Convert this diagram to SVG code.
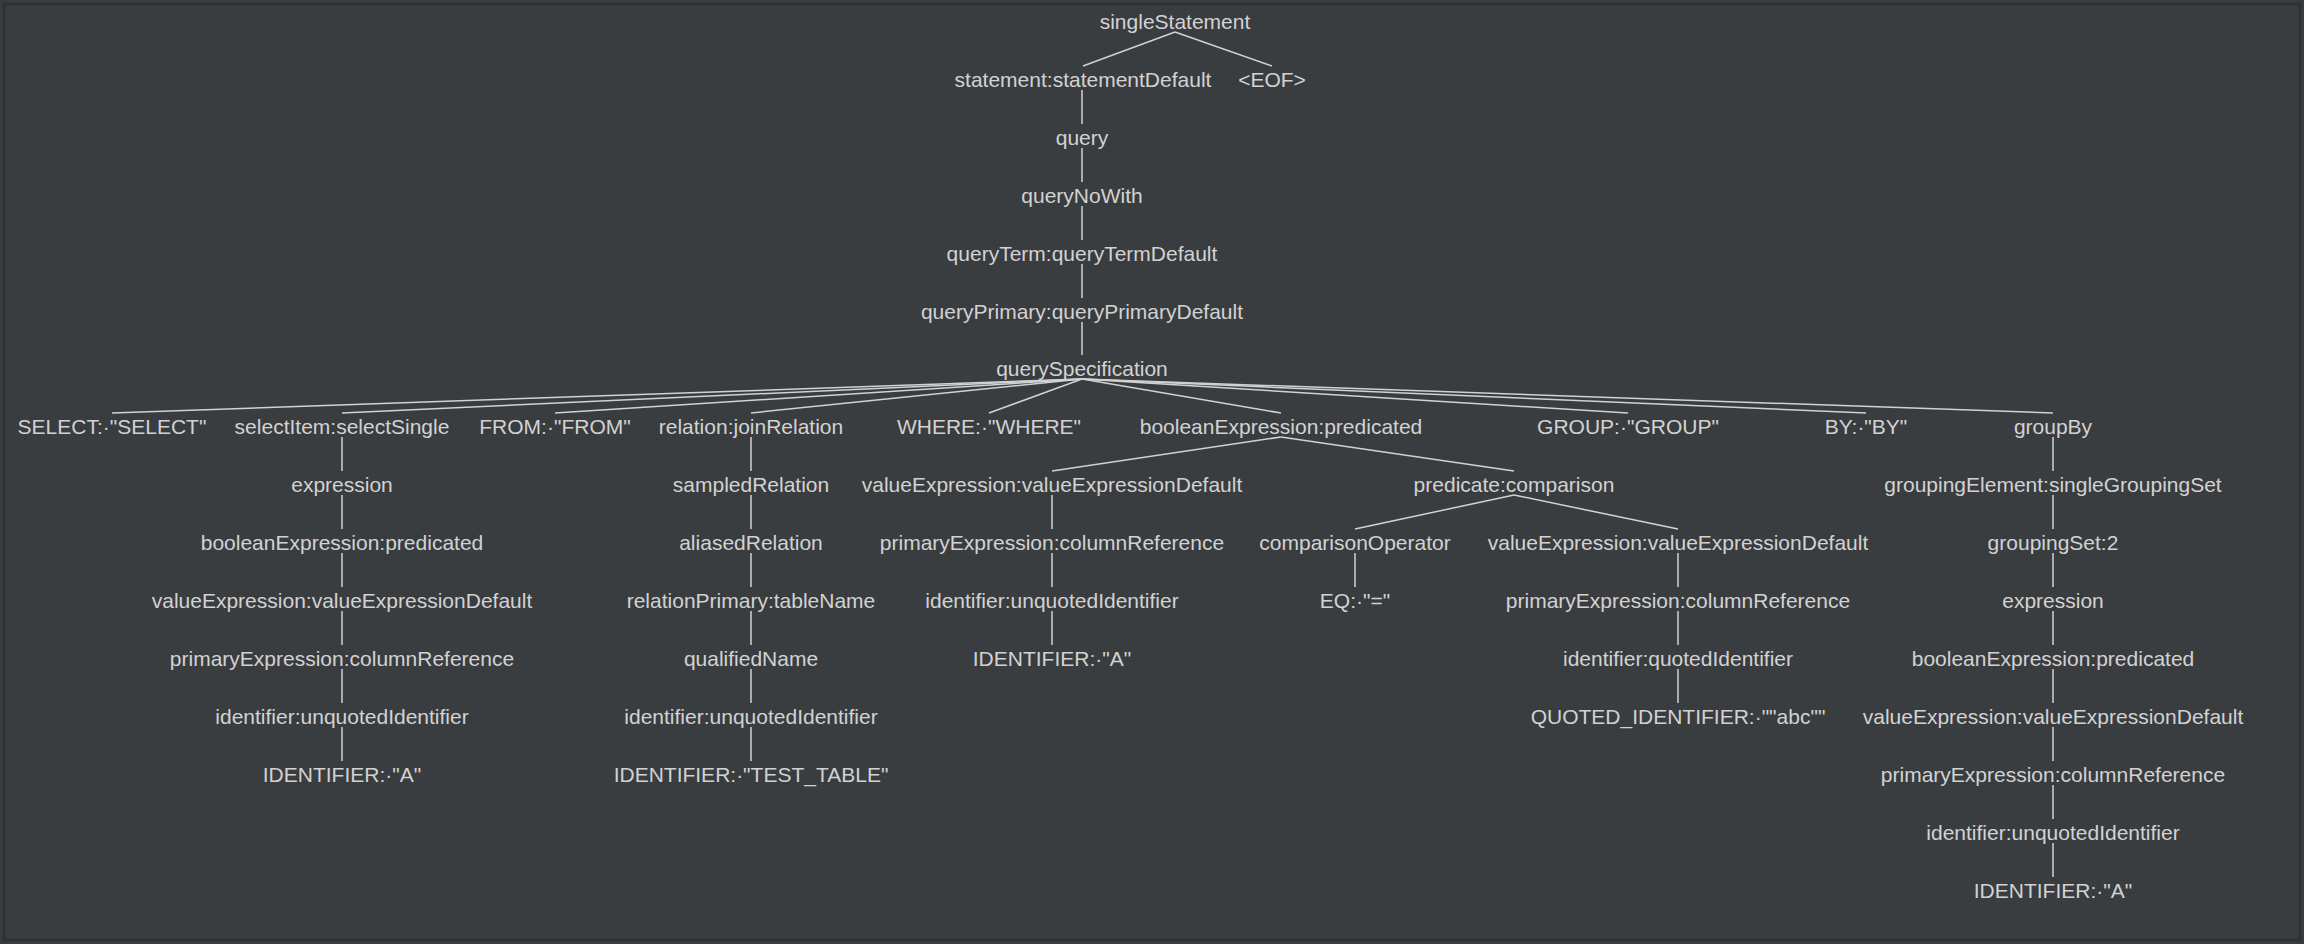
<svg xmlns="http://www.w3.org/2000/svg" width="2304" height="944" viewBox="0 0 2304 944">
<style>
text{font-family:"Liberation Sans",Arial,sans-serif;font-size:21px;fill:#d2d2d2;text-anchor:middle;dominant-baseline:central}
line{stroke:#d2d2d2;stroke-width:1.5}
</style>
<rect x="0" y="0" width="2304" height="944" fill="#3a3d40"/>
<rect x="4" y="4" width="2296" height="936" fill="none" stroke="#2e3033" stroke-width="3"/>
<g id="connectors">
<line x1="1175" y1="32" x2="1083" y2="66"/><line x1="1175" y1="32" x2="1272" y2="66"/>
<line x1="1082" y1="90" x2="1082" y2="124"/>
<line x1="1082" y1="148" x2="1082" y2="182"/>
<line x1="1082" y1="206" x2="1082" y2="240"/>
<line x1="1082" y1="264" x2="1082" y2="298"/>
<line x1="1082" y1="322" x2="1082" y2="355"/>
<line x1="1082" y1="379" x2="112" y2="413"/><line x1="1082" y1="379" x2="342" y2="413"/><line x1="1082" y1="379" x2="555" y2="413"/><line x1="1082" y1="379" x2="751" y2="413"/><line x1="1082" y1="379" x2="989" y2="413"/><line x1="1082" y1="379" x2="1281" y2="413"/><line x1="1082" y1="379" x2="1628" y2="413"/><line x1="1082" y1="379" x2="1866" y2="413"/><line x1="1082" y1="379" x2="2053" y2="413"/>
<line x1="342" y1="437" x2="342" y2="471"/><line x1="751" y1="437" x2="751" y2="471"/><line x1="1281" y1="437" x2="1052" y2="471"/><line x1="1281" y1="437" x2="1514" y2="471"/><line x1="2053" y1="437" x2="2053" y2="471"/>
<line x1="342" y1="495" x2="342" y2="529"/><line x1="751" y1="495" x2="751" y2="529"/><line x1="1052" y1="495" x2="1052" y2="529"/><line x1="1514" y1="495" x2="1355" y2="529"/><line x1="1514" y1="495" x2="1678" y2="529"/><line x1="2053" y1="495" x2="2053" y2="529"/>
<line x1="342" y1="553" x2="342" y2="587"/><line x1="751" y1="553" x2="751" y2="587"/><line x1="1052" y1="553" x2="1052" y2="587"/><line x1="1355" y1="553" x2="1355" y2="587"/><line x1="1678" y1="553" x2="1678" y2="587"/><line x1="2053" y1="553" x2="2053" y2="587"/>
<line x1="342" y1="611" x2="342" y2="645"/><line x1="751" y1="611" x2="751" y2="645"/><line x1="1052" y1="611" x2="1052" y2="645"/><line x1="1678" y1="611" x2="1678" y2="645"/><line x1="2053" y1="611" x2="2053" y2="645"/>
<line x1="342" y1="669" x2="342" y2="703"/><line x1="751" y1="669" x2="751" y2="703"/><line x1="1678" y1="669" x2="1678" y2="703"/><line x1="2053" y1="669" x2="2053" y2="703"/>
<line x1="342" y1="727" x2="342" y2="761"/><line x1="751" y1="727" x2="751" y2="761"/><line x1="2053" y1="727" x2="2053" y2="761"/>
<line x1="2053" y1="785" x2="2053" y2="819"/>
<line x1="2053" y1="843" x2="2053" y2="877"/>
</g>
<g id="n0"><text x="1175" y="21">singleStatement</text></g>
<g id="n1"><text x="1083" y="79">statement:statementDefault</text></g>
<g id="n2"><text x="1272" y="79">&lt;EOF&gt;</text></g>
<g id="n3"><text x="1082" y="137">query</text></g>
<g id="n4"><text x="1082" y="195">queryNoWith</text></g>
<g id="n5"><text x="1082" y="253">queryTerm:queryTermDefault</text></g>
<g id="n6"><text x="1082" y="311">queryPrimary:queryPrimaryDefault</text></g>
<g id="n7"><text x="1082" y="368">querySpecification</text></g>
<g id="n8"><text x="112" y="426">SELECT:·"SELECT"</text></g>
<g id="n9"><text x="342" y="426">selectItem:selectSingle</text></g>
<g id="n10"><text x="555" y="426">FROM:·"FROM"</text></g>
<g id="n11"><text x="751" y="426">relation:joinRelation</text></g>
<g id="n12"><text x="989" y="426">WHERE:·"WHERE"</text></g>
<g id="n13"><text x="1281" y="426">booleanExpression:predicated</text></g>
<g id="n14"><text x="1628" y="426">GROUP:·"GROUP"</text></g>
<g id="n15"><text x="1866" y="426">BY:·"BY"</text></g>
<g id="n16"><text x="2053" y="426">groupBy</text></g>
<g id="n17"><text x="342" y="484">expression</text></g>
<g id="n18"><text x="751" y="484">sampledRelation</text></g>
<g id="n19"><text x="1052" y="484">valueExpression:valueExpressionDefault</text></g>
<g id="n20"><text x="1514" y="484">predicate:comparison</text></g>
<g id="n21"><text x="2053" y="484">groupingElement:singleGroupingSet</text></g>
<g id="n22"><text x="342" y="542">booleanExpression:predicated</text></g>
<g id="n23"><text x="751" y="542">aliasedRelation</text></g>
<g id="n24"><text x="1052" y="542">primaryExpression:columnReference</text></g>
<g id="n25"><text x="1355" y="542">comparisonOperator</text></g>
<g id="n26"><text x="1678" y="542">valueExpression:valueExpressionDefault</text></g>
<g id="n27"><text x="2053" y="542">groupingSet:2</text></g>
<g id="n28"><text x="342" y="600">valueExpression:valueExpressionDefault</text></g>
<g id="n29"><text x="751" y="600">relationPrimary:tableName</text></g>
<g id="n30"><text x="1052" y="600">identifier:unquotedIdentifier</text></g>
<g id="n31"><text x="1355" y="600">EQ:·"="</text></g>
<g id="n32"><text x="1678" y="600">primaryExpression:columnReference</text></g>
<g id="n33"><text x="2053" y="600">expression</text></g>
<g id="n34"><text x="342" y="658">primaryExpression:columnReference</text></g>
<g id="n35"><text x="751" y="658">qualifiedName</text></g>
<g id="n36"><text x="1052" y="658">IDENTIFIER:·"A"</text></g>
<g id="n37"><text x="1678" y="658">identifier:quotedIdentifier</text></g>
<g id="n38"><text x="2053" y="658">booleanExpression:predicated</text></g>
<g id="n39"><text x="342" y="716">identifier:unquotedIdentifier</text></g>
<g id="n40"><text x="751" y="716">identifier:unquotedIdentifier</text></g>
<g id="n41"><text x="1678" y="716">QUOTED_IDENTIFIER:·""abc""</text></g>
<g id="n42"><text x="2053" y="716">valueExpression:valueExpressionDefault</text></g>
<g id="n43"><text x="342" y="774">IDENTIFIER:·"A"</text></g>
<g id="n44"><text x="751" y="774">IDENTIFIER:·"TEST_TABLE"</text></g>
<g id="n45"><text x="2053" y="774">primaryExpression:columnReference</text></g>
<g id="n46"><text x="2053" y="832">identifier:unquotedIdentifier</text></g>
<g id="n47"><text x="2053" y="890">IDENTIFIER:·"A"</text></g>
</svg>
